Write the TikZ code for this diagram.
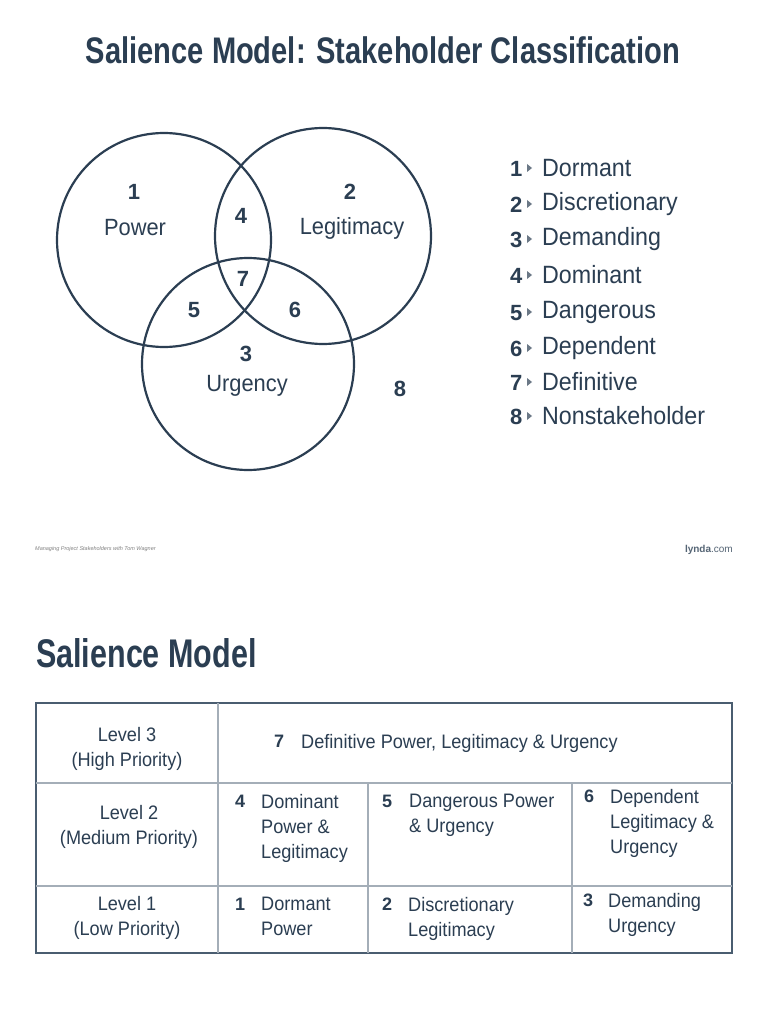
\documentclass[tikz,border=0pt]{standalone}
\usepackage{fontspec}
\setmainfont{Liberation Sans}
\definecolor{navy}{HTML}{2B3E52}
\definecolor{tbl}{HTML}{4A5D70}
\begin{document}
\begin{tikzpicture}[x=1pt,y=-1pt,
  txt/.style={text=navy,inner sep=0pt,font=\fontsize{23.5}{26}\selectfont,xscale=0.93},
  num/.style={text=navy,inner sep=0pt,font=\fontsize{22}{24}\selectfont\bfseries},
  circ/.style={draw=navy,line width=2.2pt},
  cell/.style={text=navy,inner sep=0pt,font=\fontsize{19.5}{25}\selectfont,xscale=0.93,align=left,anchor=north west},
  cnum/.style={text=navy,inner sep=0pt,font=\fontsize{18}{22}\selectfont\bfseries,anchor=north west},
  lvl/.style={text=navy,inner sep=0pt,font=\fontsize{19.5}{25}\selectfont,xscale=0.93,align=center}]
\useasboundingbox[fill=white] (0,0) rectangle (768,1024);
\node[txt,font=\fontsize{37}{40}\selectfont\bfseries,xscale=0.845] (title) at (383,50) {Salience Model: Stakeholder Classification};
\draw[circ] (164,240) circle (107);
\draw[circ] (323,236) circle (108);
\draw[circ] (248,364) circle (106);
\node[num] (n1) at (134,192) {1};
\node[txt] (p) at (135,228) {Power};
\node[num] (n2) at (350,192) {2};
\node[txt] (l) at (352,228) {Legitimacy};
\node[num] (n4) at (241,216) {4};
\node[num] (n7) at (243,279) {7};
\node[num] (n5) at (194,310) {5};
\node[num] (n6) at (295,310) {6};
\node[num] (n3) at (246,354) {3};
\node[txt] (u) at (247,386) {Urgency};
\node[num] (n8) at (400,389) {8};
\foreach \i/\t/\y in {1/Dormant/168,2/Discretionary/204,3/Demanding/239,4/Dominant/275,5/Dangerous/312,6/Dependent/348,7/Definitive/382,8/Nonstakeholder/416}{
  \node[num,anchor=west] (k\i) at (510,\y+1) {\i};
  \fill[navy!70] (527,\y-4) -- (532,\y) -- (527,\y+4) -- cycle;
  \node[txt,anchor=west,font=\fontsize{25}{27}\selectfont] (kt\i) at (542,\y) {\t};
}
\node[text=gray,font=\itshape\fontsize{5.5}{6}\selectfont,anchor=west,inner sep=0pt] (foot) at (35,549) {Managing Project Stakeholders with Tom Wagner};
\node[text=navy!80,font=\fontsize{10}{11}\selectfont,anchor=east,inner sep=0pt] (ly) at (733,550) {\textbf{lynda}.com};
\node[txt,font=\fontsize{40}{42}\selectfont\bfseries,xscale=0.82,anchor=west] (t2) at (36,653) {Salience Model};
% table
\draw[tbl,line width=2pt] (36,703) rectangle (732,953);
\draw[tbl!50,line width=1.5pt] (218,703) -- (218,953);
\draw[tbl!50,line width=1.5pt] (36,783) -- (732,783);
\draw[tbl!50,line width=1.5pt] (36,886) -- (732,886);
\draw[tbl!50,line width=1.5pt] (368,783) -- (368,953);
\draw[tbl!50,line width=1.5pt] (572,783) -- (572,953);
\node[lvl] (l3) at (127,749) {Level 3\\(High Priority)};
\node[lvl] (l2) at (129,827) {Level 2\\(Medium Priority)};
\node[lvl] (l1) at (127,918) {Level 1\\(Low Priority)};
\node[cnum] (c7) at (274,735) {7};
\node[cell] (t7) at (301,734) {Definitive Power, Legitimacy \& Urgency};
\node[cnum] (c4) at (235,795) {4};
\node[cell] (t4) at (261,794) {Dominant\\Power \&\\Legitimacy};
\node[cnum] (c5) at (382,795) {5};
\node[cell] (t5) at (409,794) {Dangerous Power\\\& Urgency};
\node[cnum] (c6) at (584,790) {6};
\node[cell] (t6) at (610,789) {Dependent\\Legitimacy \&\\Urgency};
\node[cnum] (c1) at (235,898) {1};
\node[cell] (t1) at (261,897) {Dormant\\Power};
\node[cnum] (c2) at (382,898) {2};
\node[cell] (t2b) at (408,897) {Discretionary\\Legitimacy};
\node[cnum] (c3) at (583,894) {3};
\node[cell] (t3) at (608,893) {Demanding\\Urgency};
\end{tikzpicture}
\end{document}
